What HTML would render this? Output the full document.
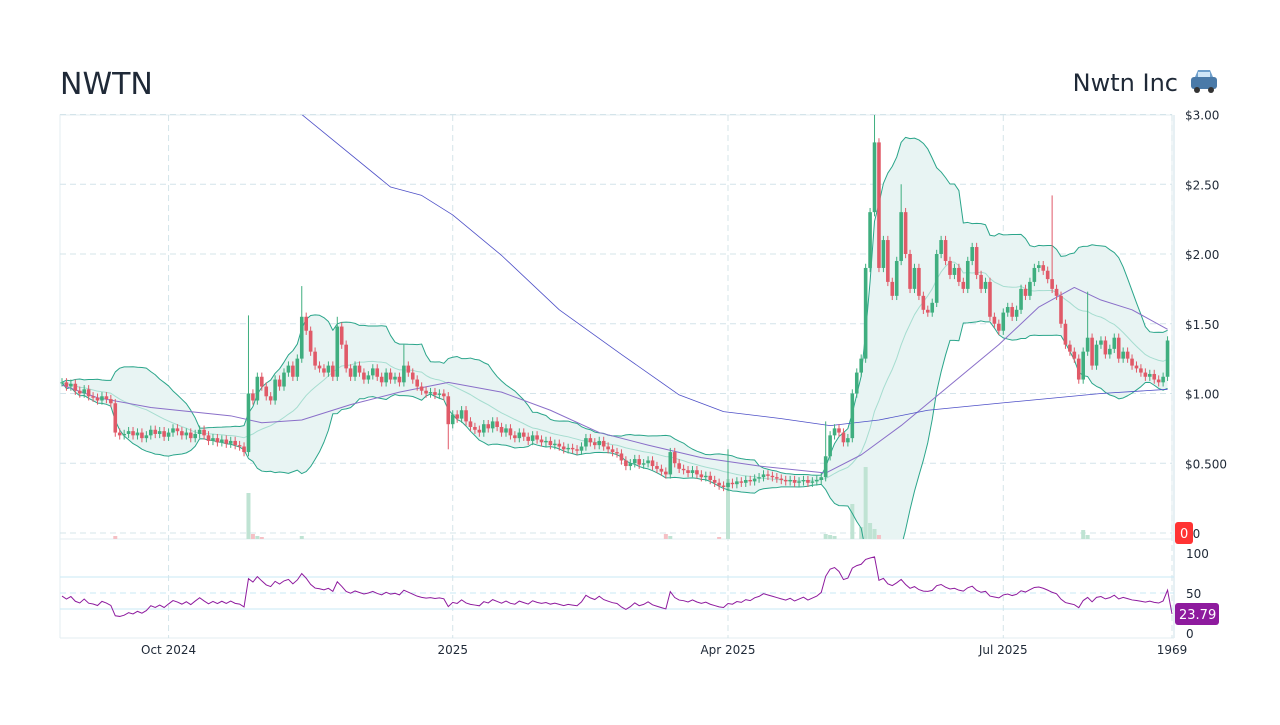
<!DOCTYPE html>
<html><head><meta charset="utf-8"><style>
body{margin:0;background:#fff;width:1280px;height:720px;overflow:hidden;font-family:"Liberation Sans","DejaVu Sans",sans-serif}
svg text{font-family:"DejaVu Sans","Liberation Sans",sans-serif}
</style></head><body>
<svg id="c" width="1280" height="720">
<text x="60" y="94" font-size="30" fill="#1f2937">NWTN</text>
<text x="1178" y="91" font-size="24" fill="#1f2937" text-anchor="end">Nwtn Inc</text>
<g transform="translate(1189,68)">
<rect x="2" y="9" width="26" height="12" rx="3" fill="#4a7aa8"/><path d="M6 9 L9 2 H21 L24 9Z" fill="#6fa0cc"/><rect x="9" y="4" width="12" height="5" fill="#cfe6f7"/>
<circle cx="8" cy="22" r="3" fill="#333"/><circle cx="22" cy="22" r="3" fill="#333"/></g>
</svg>
<script>
const closes=[1.08,1.05,1.07,1.02,1.0,1.03,0.98,0.97,0.95,0.98,0.96,0.93,
0.72,0.70,0.71,0.73,0.70,0.72,0.68,0.70,0.74,0.71,0.73,0.69,0.72,0.75,0.73,0.70,0.72,0.68,0.71,0.74,0.70,0.66,0.68,0.65,0.67,0.64,0.66,0.63,0.62,0.58,
1.0,0.95,1.12,1.05,0.98,0.95,1.10,1.05,1.15,1.20,1.12,1.25,
1.55,1.45,1.30,1.20,1.18,1.15,1.20,1.12,
1.48,1.35,1.18,1.12,1.20,1.15,1.10,1.13,1.18,1.12,1.08,1.15,1.10,1.12,1.08,
1.20,1.15,1.10,1.05,1.02,1.00,1.01,0.99,1.00,0.98,
0.78,0.85,0.82,0.88,0.80,0.76,0.74,0.72,0.78,0.75,0.80,0.76,0.72,0.75,0.70,0.68,0.72,0.69,0.66,0.70,0.67,0.65,0.66,0.63,0.64,
0.62,0.60,0.61,0.60,0.59,0.62,0.68,0.65,0.63,0.66,0.62,0.60,0.58,0.57,
0.52,0.48,0.50,0.53,0.49,0.50,0.52,0.48,0.46,0.44,
0.42,0.58,0.50,0.46,0.45,0.43,0.45,0.42,0.40,0.41,0.38,0.36,
0.34,0.33,0.36,0.35,0.37,0.36,0.38,0.37,0.39,0.40,0.42,0.41,0.40,0.39,0.38,0.37,0.38,0.36,0.37,0.38,0.36,0.37,0.38,0.40,
0.55,0.70,0.75,0.72,0.65,0.68,
1.0,1.15,1.25,1.90,2.30,
2.80,1.90,2.10,1.80,1.70,1.95,2.30,2.00,1.75,1.90,1.70,1.60,1.58,1.65,
2.00,2.10,1.95,1.85,1.90,1.80,1.75,1.95,2.05,1.85,1.75,1.80,
1.55,1.50,1.45,1.58,1.62,1.55,
1.60,1.75,1.70,1.80,1.90,1.92,1.88,1.82,1.75,1.70,
1.50,1.35,1.30,1.25,1.10,
1.30,1.40,1.20,1.35,1.38,1.28,1.32,1.40,1.25,1.30,1.25,1.20,1.18,1.15,1.12,1.14,1.10,1.08,1.12,
1.38];
const spikeIdx=[42,54,62,77,87,150,172,183,189,223,231];
const spikeHigh=[1.56,1.77,1.55,1.35,0.6,0.6,0.8,3.0,2.5,2.42,1.73];
const sma50Idx=[0,8,20,38,45,54,65,76,87,99,110,121,132,144,157,172,180,189,200,211,220,228,234,241,249];
const sma50Val=[1.06,0.97,0.90,0.84,0.79,0.81,0.92,1.01,1.08,1.01,0.88,0.72,0.63,0.54,0.48,0.43,0.56,0.77,1.06,1.35,1.62,1.76,1.67,1.60,1.46];
const sma200Idx=[54,74,81,88,99,112,126,139,149,162,173,184,195,211,234,249];
const sma200Val=[3.0,2.48,2.42,2.28,1.99,1.6,1.28,0.99,0.87,0.82,0.77,0.81,0.88,0.93,1.0,1.03];
const volIdx=[12,42,43,44,45,54,136,137,148,150,172,173,174,178,180,181,182,183,184,230,231];
const volVal=[3,46,5,3,2,3,5,3,2,60,5,4,3,35,12,72,16,10,4,9,4];
const xTickLabels=["Oct 2024","2025","Apr 2025","Jul 2025","1969"];
const xTickIdx=[24,88,150,212,249];
const priceTicks=[0,0.5,1,1.5,2,2.5,3];
const priceTickLabels=["$0","$0.500","$1.00","$1.50","$2.00","$2.50","$3.00"];
const rsiTicks=[0,50,100];

const svg=document.getElementById('c');const NS='http://www.w3.org/2000/svg';
function mk(t,a,p){const e=document.createElementNS(NS,t);for(const k in a)e.setAttribute(k,a[k]);(p||svg).appendChild(e);return e;}
const L=60,R=1172,T=115,B=539;
const X=i=>62+i*(1110/closes.length);
const Y=p=>533-139.5*p;
const RY=r=>633-0.8*r;
const VY=v=>539-v;
let f=mk('rect',{x:L,y:T,width:R-L,height:B-T,fill:'none',stroke:'#e3edf2'});


let f2=mk('line',{x1:1174,y1:T,x2:1174,y2:638,stroke:'#cfe0e8'});


mk('line',{x1:L,y1:638,x2:1174,y2:638,stroke:'#e3edf2'});
mk('line',{x1:L,y1:T,x2:L,y2:638,stroke:'#e3edf2'});
priceTicks.forEach((p,k)=>{
 mk('line',{x1:L,y1:Y(p),x2:R,y2:Y(p),stroke:'#d4e4ea','stroke-dasharray':'6,4'});
 const t=mk('text',{x:1185,y:Y(p)+5,'font-size':12,fill:'#1f2937'});t.textContent=priceTickLabels[k];
 
 
});
xTickIdx.forEach((i,k)=>{
 const x=k==4?1172:X(i);
 mk('line',{x1:x,y1:T,x2:x,y2:638,stroke:'#d4e4ea','stroke-dasharray':'6,4'});
 const t=mk('text',{x:x,y:654,'font-size':12,fill:'#1f2937','text-anchor':'middle'});t.textContent=xTickLabels[k];
 
 
});
const up=[],lo=[],mid=[];
closes.forEach((c,i)=>{const w=closes.slice(Math.max(0,i-19),i+1);const m=w.reduce((a,b)=>a+b,0)/w.length;
 const sd=Math.sqrt(w.reduce((a,b)=>a+(b-m)*(b-m),0)/w.length);mid.push(m);up.push(m+2*sd);lo.push(m-2*sd);});
const clip=mk('clipPath',{id:'cp'});mk('rect',{x:L,y:T,width:R-L+2,height:B-T},clip);
const g=mk('g',{'clip-path':'url(#cp)'});


let band='M'+up.map((v,i)=>X(i)+','+Y(v)).join('L')+'L'+lo.map((v,i)=>X(i)+','+Y(v)).reverse().join('L')+'Z';
let bf=mk('path',{d:band,fill:'#e8f4f3'},g);


volIdx.forEach((i,k)=>{const r=mk('rect',{x:X(i)-2,y:VY(volVal[k]),width:4,height:volVal[k],fill:closes[i]>=(closes[i-1]||0)?'#bfe3d3':'#f5c0c5'},g);
 
 });
const ln=(arr,col,w,name,ix)=>{const p=mk('path',{d:'M'+arr.map((v,k)=>X(ix?ix[k]:k)+','+Y(v)).join('L'),fill:'none',stroke:col,'stroke-width':w,'stroke-linejoin':'round'},g);
 
 };
ln(up,'#2aa58a',1,'bollinger-upper');ln(lo,'#2aa58a',1,'bollinger-lower');ln(mid,'#a6ddd0',1,'bollinger-middle');
ln(sma50Val,'#8a6fc9',1,'sma-50',sma50Idx);ln(sma200Val,'#4d4fc7',0.8,'sma-200',sma200Idx);
closes.forEach((c,i)=>{const o=i?closes[i-1]:c;let hi=Math.max(o,c)+0.03,lw=Math.min(o,c)-0.03;
 const s=spikeIdx.indexOf(i);if(s>=0){if(spikeHigh[s]>hi)hi=spikeHigh[s];else lw=spikeHigh[s];}
 const col=c>=o?'#3fae7f':'#e05a68';
 const cg=mk('g',{},g);
 
 
 mk('line',{x1:X(i),y1:Y(hi),x2:X(i),y2:Y(lw),stroke:col,'stroke-width':1},cg);
 mk('rect',{x:X(i)-1.8,y:Y(Math.max(o,c)),width:3.6,height:Math.max(1,Math.abs(Y(o)-Y(c))),fill:col},cg);});
// rsi (Wilder 14), seeded
const rsi=[];let ag=0.012,al=0.014;
closes.forEach((c,i)=>{if(i){const d=c-closes[i-1];const gn=Math.max(d,0),ls=Math.max(-d,0);
 ag=(ag*13+gn)/14;al=(al*13+ls)/14;}
 rsi.push(al===0?100:100-100/(1+ag/al));});
[70,50,30].forEach(v=>mk('line',{x1:L,y1:RY(v),x2:1174,y2:RY(v),stroke:'#c9e9f6','stroke-dasharray':v==50?'6,4':''}));
rsiTicks.forEach(v=>{const t=mk('text',{x:1186,y:RY(v)+5,'font-size':12,fill:'#1f2937'});t.textContent=v;
 
 });
const rp=mk('path',{d:'M'+rsi.map((v,i)=>X(i)+','+RY(v)).join('L')+'L1172,'+RY(23.79),fill:'none',stroke:'#8e1b9e','stroke-width':1});


const b1=mk('rect',{x:1175,y:522,width:18,height:22,rx:3,fill:'#ff3333'});


const t1=mk('text',{x:1180,y:538,'font-size':13,fill:'#fff'});t1.textContent='0';
const b2=mk('rect',{x:1175,y:603,width:44,height:22,rx:3,fill:'#8e1b9e'});


const t2=mk('text',{x:1179,y:619,'font-size':13,fill:'#fff'});t2.textContent='23.79';
</script>
</body></html>
